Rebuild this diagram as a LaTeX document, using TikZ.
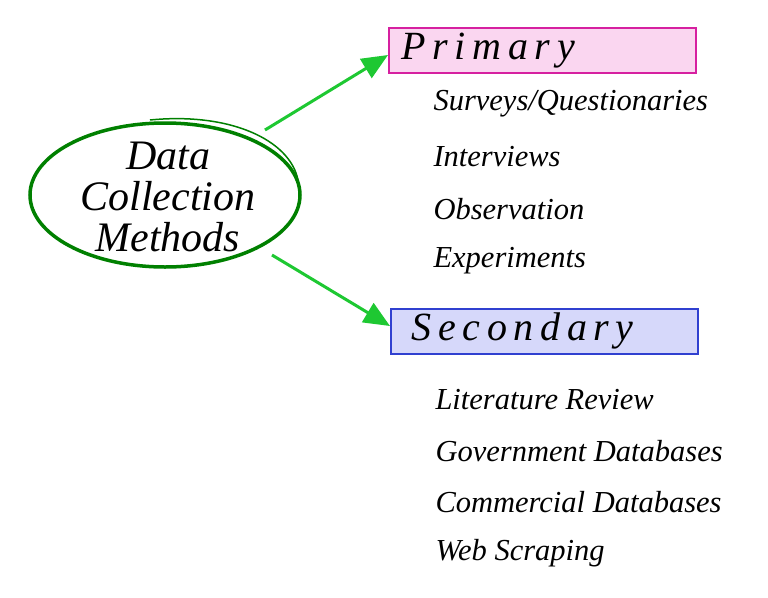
\documentclass[tikz,border=0pt]{standalone}
\usepackage{fontspec}
\setmainfont{Liberation Serif}
\usetikzlibrary{arrows.meta}
\begin{document}
\begin{tikzpicture}[x=1pt,y=-1pt,
  item/.style={anchor=west,font=\itshape\fontsize{30.5}{31}\selectfont},
  head/.style={anchor=west,font=\itshape\fontsize{40}{42}\selectfont},
  arr/.style={line width=3pt,-{Triangle[length=26pt,width=22pt]}}]
\useasboundingbox (0,0) rectangle (768,597);
\fill[white] (0,0) rectangle (768,597);
\draw[green!50!black,line width=3.5pt] (165,195) ellipse [x radius=135,y radius=72];
\draw[green!50!black,line width=1.5pt] (150,120) .. controls (230,112) and (290,140) .. (298,180);
\node[align=center,font=\itshape\fontsize{42}{41}\selectfont] (dcm) at (168,197) {Data\\Collection\\Methods};
\node[draw={rgb,255:red,214;green,32;blue,160},fill={rgb,255:red,250;green,214;blue,240},line width=1.5pt,minimum width=307pt,minimum height=45pt,anchor=north west] (p) at (388,27) {};
\node[head] at (398,51) {P\,r\,i\,m\,a\,r\,y};
\node[draw={rgb,255:red,48;green,64;blue,208},fill={rgb,255:red,214;green,216;blue,250},line width=1.5pt,minimum width=307pt,minimum height=45pt,anchor=north west] (s) at (390,308) {};
\node[head] at (408,331) {S\,e\,c\,o\,n\,d\,a\,r\,y};
\coordinate (a1) at (265,130); \coordinate (a2) at (272,255);
\draw[arr,draw={rgb,255:red,30;green,200;blue,50},fill={rgb,255:red,30;green,200;blue,50}] (a1) -- (p.west|-0,55);
\draw[arr,draw={rgb,255:red,30;green,200;blue,50},fill={rgb,255:red,30;green,200;blue,50}] (a2) -- (s.west|-0,326);
\node[item] (i1) at (430,104) {Surveys/Questionaries};
\node[item] (i2) at (430,157) {Interviews};
\node[item] (i3) at (430,209) {Observation};
\node[item] (i4) at (430,261) {Experiments};
\node[item] (j1) at (432,400) {Literature Review};
\node[item] (j2) at (432,451) {Government Databases};
\node[item] (j3) at (432,502) {Commercial Databases};
\node[item] (j4) at (432,553) {Web Scraping};
\end{tikzpicture}
\end{document}
